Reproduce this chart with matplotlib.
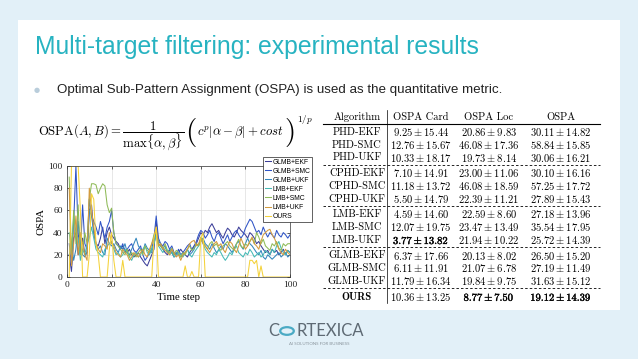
import numpy as np
import matplotlib.pyplot as plt
import matplotlib.patheffects as pe
from matplotlib.lines import Line2D
from matplotlib.patches import Rectangle, Circle

plt.rcParams['mathtext.fontset'] = 'cm'

# --- chart data (OSPA per time step) ---
time_steps = np.arange(1, 101)

glmb_ekf = [20, 5, 35, 40, 20, 25, 35, 20, 22, 60,
            65, 40, 30, 28, 35, 45, 30, 40, 45, 38,
            35, 32, 30, 25, 28, 24, 22, 25, 20, 18,
            20, 22, 18, 15, 12, 10, 15, 20, 25, 50,
            30, 28, 25, 22, 20, 24, 22, 18, 20, 22,
            25, 22, 20, 18, 22, 25, 28, 30, 35, 40,
            38, 42, 40, 45, 48, 44, 40, 42, 38, 35,
            40, 44, 42, 38, 36, 40, 45, 42, 40, 38,
            35, 40, 38, 35, 30, 32, 28, 25, 22, 24,
            20, 25, 22, 24, 20, 22, 25, 20, 24, 22]
glmb_smc = [30, 10, 50, 100, 40, 20, 65, 30, 25, 70,
            55, 50, 45, 38, 50, 42, 35, 45, 50, 60,
            40, 30, 28, 25, 30, 22, 25, 28, 30, 24,
            22, 25, 28, 20, 15, 18, 22, 25, 35, 55,
            35, 30, 28, 32, 30, 25, 28, 22, 20, 25,
            20, 22, 25, 28, 30, 24, 28, 32, 38, 42,
            40, 35, 38, 42, 36, 32, 38, 40, 35, 30,
            34, 38, 32, 36, 40, 42, 38, 35, 38, 44,
            48, 52, 50, 45, 40, 42, 38, 45, 40, 36,
            40, 38, 35, 42, 38, 36, 40, 38, 35, 38]
glmb_ukf = [20, 30, 15, 25, 50, 30, 20, 18, 22, 60,
            55, 40, 30, 25, 28, 22, 20, 35, 30, 28,
            30, 25, 22, 28, 25, 30, 22, 20, 25, 30,
            35, 28, 25, 22, 30, 26, 24, 22, 30, 40,
            32, 30, 26, 28, 22, 25, 24, 20, 22, 20,
            18, 20, 22, 25, 20, 22, 25, 30, 28, 32,
            35, 30, 28, 25, 30, 26, 22, 24, 28, 25,
            30, 28, 25, 22, 26, 30, 32, 28, 25, 30,
            35, 30, 28, 25, 22, 20, 24, 18, 16, 20,
            18, 16, 18, 20, 22, 18, 20, 22, 18, 20]
lmb_ekf = [40, 20, 55, 40, 35, 15, 25, 20, 30, 35,
           45, 35, 25, 22, 20, 18, 25, 28, 30, 32,
           25, 20, 22, 18, 20, 25, 22, 18, 15, 20,
           22, 18, 20, 25, 28, 22, 20, 25, 30, 38,
           28, 25, 22, 26, 24, 20, 22, 18, 20, 22,
           20, 18, 22, 25, 20, 18, 22, 25, 28, 35,
           30, 25, 22, 20, 18, 22, 20, 25, 22, 18,
           15, 18, 22, 20, 25, 28, 22, 20, 18, 22,
           20, 25, 22, 18, 20, 22, 18, 20, 24, 22,
           20, 25, 22, 28, 32, 26, 22, 20, 24, 22]
lmb_smc = [90, 20, 60, 30, 65, 20, 25, 40, 30, 70,
           84, 84, 83, 75, 80, 84, 82, 65, 58, 62,
           40, 30, 28, 25, 22, 20, 25, 18, 22, 20,
           18, 22, 25, 20, 28, 24, 22, 30, 38, 42,
           30, 28, 25, 30, 24, 22, 26, 20, 24, 22,
           18, 22, 20, 25, 28, 24, 26, 30, 28, 36,
           32, 28, 25, 30, 32, 28, 30, 26, 24, 28,
           30, 32, 28, 26, 24, 30, 34, 28, 26, 30,
           28, 32, 35, 30, 40, 36, 30, 34, 28, 26,
           24, 30, 28, 32, 26, 24, 30, 28, 30, 30]
lmb_ukf = [80, 10, 30, 55, 20, 40, 30, 20, 15, 80,
           60, 45, 30, 25, 22, 30, 28, 25, 40, 30,
           28, 22, 20, 18, 25, 22, 20, 15, 18, 22,
           20, 18, 22, 25, 20, 18, 25, 30, 35, 45,
           28, 30, 26, 24, 22, 20, 25, 22, 18, 20,
           15, 20, 22, 25, 30, 32, 33, 28, 30, 35,
           30, 28, 25, 22, 26, 30, 32, 28, 30, 25,
           22, 28, 32, 30, 25, 22, 28, 35, 30, 25,
           28, 32, 36, 30, 28, 25, 32, 38, 40, 42,
           43, 38, 35, 30, 25, 22, 20, 25, 22, 20]
ours = [0, 100, 100, 100, 100, 60, 0, 0, 0, 20,
        75, 70, 30, 20, 0, 0, 0, 0, 25, 40,
        15, 0, 0, 0, 15, 0, 0, 0, 0, 0,
        0, 0, 0, 0, 0, 0, 0, 0, 35, 45,
        0, 0, 0, 0, 0, 0, 0, 0, 0, 0,
        0, 0, 10, 0, 0, 5, 0, 0, 0, 35,
        40, 0, 0, 0, 0, 0, 0, 0, 0, 0,
        0, 0, 0, 0, 0, 0, 0, 0, 0, 0,
        0, 15, 15, 12, 15, 0, 10, 0, 0, 0,
        0, 0, 0, 0, 0, 0, 0, 0, 0, 0]

series_labels = ['GLMB+EKF', 'GLMB+SMC', 'GLMB+UKF', 'LMB+EKF', 'LMB+SMC', 'LMB+UKF', 'OURS']
series_colors = ['#3b3d98', '#2f54c6', '#3386bd', '#45bab6', '#8fbb58', '#d49b3e', '#f4d23a']

# --- table data ---
algorithms = ['PHD-EKF', 'PHD-SMC', 'PHD-UKF', 'CPHD-EKF', 'CPHD-SMC', 'CPHD-UKF',
              'LMB-EKF', 'LMB-SMC', 'LMB-UKF', 'GLMB-EKF', 'GLMB-SMC', 'GLMB-UKF', 'OURS']
card_mean = [9.25, 12.76, 10.33, 7.10, 11.18, 5.50, 4.59, 12.07, 3.77, 6.37, 6.11, 11.79, 10.36]
card_std = [15.44, 15.67, 18.17, 14.91, 13.72, 14.79, 14.60, 19.75, 13.82, 17.66, 11.91, 16.34, 13.25]
loc_mean = [20.86, 46.08, 19.73, 23.00, 46.08, 22.39, 22.59, 23.47, 21.94, 20.13, 21.07, 19.84, 8.77]
loc_std = [9.83, 17.36, 8.14, 11.06, 18.59, 11.21, 8.60, 13.49, 10.22, 8.02, 6.78, 9.75, 7.50]
ospa_mean = [30.11, 58.84, 30.06, 30.10, 57.25, 27.89, 27.18, 35.54, 25.72, 26.50, 27.19, 31.63, 19.12]
ospa_std = [14.82, 15.85, 16.21, 16.16, 17.72, 15.43, 13.96, 17.95, 14.39, 15.20, 11.49, 15.12, 14.39]
bold_cells = [(8, 0), (12, 1), (12, 2)]

W, H = 638, 359


def fx(x):
    return x / W


def fy(y):
    return 1 - y / H


fig = plt.figure(figsize=(W / 100, H / 100), dpi=100)
fig.patch.set_facecolor('#e2f0f8')
fig.add_artist(Rectangle((fx(18), fy(310)), fx(620) - fx(18), fy(20) - fy(310),
                         transform=fig.transFigure, facecolor='white', edgecolor='none',
                         zorder=-10))
renderer = fig.canvas.get_renderer()

# title + bullet
fig.text(fx(35), fy(47), 'Multi-target filtering: experimental results', fontsize=17.8,
         family='Liberation Sans', color='#27b3c1', va='center', ha='left')
fig.text(fx(37), fy(90), '\u25cf', fontsize=5, color='#b9cddb', va='center', ha='center')
fig.text(fx(57), fy(90), 'Optimal Sub-Pattern Assignment (OSPA) is used as the quantitative metric.',
         fontsize=9.6, family='Liberation Sans', color='#222222', va='center', ha='left')

# formula, built in pieces so the brackets can be tall
base_y = 135
fs = 9.2
t = fig.text(fx(38), fy(base_y), r'$\mathrm{OSPA}(A,B) = \dfrac{1}{\max\{\alpha,\beta\}}$',
             fontsize=fs, va='baseline', ha='left')
x_end = t.get_window_extent(renderer).x1
t = fig.text(fx(x_end + 1), fy(132.5), '(', family='cmr10', fontsize=21, va='center', ha='left')
x_end = t.get_window_extent(renderer).x1
t = fig.text(fx(x_end + 0.5), fy(base_y), r'$c^p|\alpha-\beta| + cost$', fontsize=fs,
             va='baseline', ha='left')
x_end = t.get_window_extent(renderer).x1
t = fig.text(fx(x_end + 1), fy(132.5), ')', family='cmr10', fontsize=21, va='center', ha='left')
x_end = t.get_window_extent(renderer).x1
fig.text(fx(x_end + 1), fy(122), r'$1/p$', fontsize=6.6, va='baseline', ha='left')

#
# Line chart
#
ax = fig.add_axes([fx(67), fy(277), fx(290) - fx(67), fy(166) - fy(277)])
all_series = [glmb_ekf, glmb_smc, glmb_ukf, lmb_ekf, lmb_smc, lmb_ukf, ours]
for vals, lab, col in zip(all_series, series_labels, series_colors):
    ax.plot(time_steps, vals, color=col, lw=0.75, label=lab)

ax.set_xlim(0, 100)
ax.set_ylim(0, 100)
ax.set_xticks(range(0, 101, 20))
ax.set_yticks(range(0, 101, 20))
ax.grid(True, color='#dddddd', lw=0.5)
ax.tick_params(direction='in', length=2, width=0.5, labelsize=6.8, pad=3,
               top=True, right=True, colors='#222222')
for lbl in ax.get_xticklabels() + ax.get_yticklabels():
    lbl.set_family('Liberation Serif')
for sp in ax.spines.values():
    sp.set_linewidth(0.5)
    sp.set_color('#333333')
ax.set_xlabel('Time step', family='Liberation Serif', fontsize=7.8, labelpad=2.5)
ax.set_ylabel('OSPA', family='Liberation Serif', fontsize=7.8, labelpad=2)

leg = fig.legend(loc='upper right', bbox_to_anchor=(fx(312), fy(157)),
                 prop={'family': 'Liberation Sans', 'size': 4.9},
                 frameon=True, fancybox=False, borderaxespad=0, borderpad=0.25,
                 labelspacing=0.3, handlelength=0.9, handletextpad=0.2)
leg.get_frame().set_edgecolor('#222222')
leg.get_frame().set_linewidth(0.5)
leg.get_frame().set_alpha(1)

#
# Table
#
col_x = [357, 421, 489, 561]
hdr_y = 117.5
tfs = 7.6
fig.text(fx(col_x[0]), fy(hdr_y), 'Algorithm', family='cmr10', fontsize=tfs, ha='center', va='center')
for cx, h in zip(col_x[1:], ['OSPA Card', 'OSPA Loc', 'OSPA']):
    fig.text(fx(cx), fy(hdr_y), h, family='cmr10', fontsize=tfs, ha='center', va='center')
fig.add_artist(Line2D([fx(323), fx(600)], [fy(124), fy(124)], transform=fig.transFigure,
                      color='black', lw=0.8))
fig.add_artist(Line2D([fx(387), fx(387)], [fy(110), fy(303)], transform=fig.transFigure,
                      color='black', lw=0.5))

row_y = []
y = 132
for i in range(len(algorithms)):
    row_y.append(y)
    if i % 3 == 2 and i < 12:
        dash_y = y + 7.2
        fig.add_artist(Line2D([fx(323), fx(600)], [fy(dash_y), fy(dash_y)], transform=fig.transFigure,
                              color='black', lw=0.6, ls=(0, (3, 2.5))))
        y += 15.6
    else:
        y += 12.8

bold_fx = [pe.withStroke(linewidth=0.25, foreground='black')]


def cell(m, s, bold):
    if bold:
        return r'$\mathbf{%.2f} \pm \mathbf{%.2f}$' % (m, s)
    return r'$%.2f \pm %.2f$' % (m, s)


for i, name in enumerate(algorithms):
    ry = row_y[i]
    if name == 'OURS':
        fig.text(fx(col_x[0]), fy(ry), name, family='cmb10', fontsize=tfs, ha='center', va='center')
    else:
        fig.text(fx(col_x[0]), fy(ry), name, family='cmr10', fontsize=tfs, ha='center', va='center')
    vals = [(card_mean[i], card_std[i]), (loc_mean[i], loc_std[i]), (ospa_mean[i], ospa_std[i])]
    for j, (m, s) in enumerate(vals):
        bold = (i, j) in bold_cells
        fig.text(fx(col_x[j + 1]), fy(ry), cell(m, s, bold), fontsize=tfs, ha='center', va='center',
                 path_effects=bold_fx if bold else None)

# logo
fig.text(fx(268), fy(331), 'C', family='Lato', fontsize=12, color='#5e6a74', ha='left', va='center')
fig.add_artist(Circle((fx(287), fy(331)), 6.8 / W, transform=fig.transFigure,
                      facecolor='none', edgecolor='#4aaac4', lw=1.6))
fig.text(fx(296), fy(331), 'RTEXICA', family='Lato', fontsize=12, color='#5e6a74', ha='left', va='center')
fig.text(fx(319), fy(344), 'AI SOLUTIONS FOR BUSINESS', family='Lato', fontsize=3.2,
         color='#8a959d', ha='center', va='center')

fig.savefig('out.png', dpi=100, facecolor=fig.get_facecolor())
